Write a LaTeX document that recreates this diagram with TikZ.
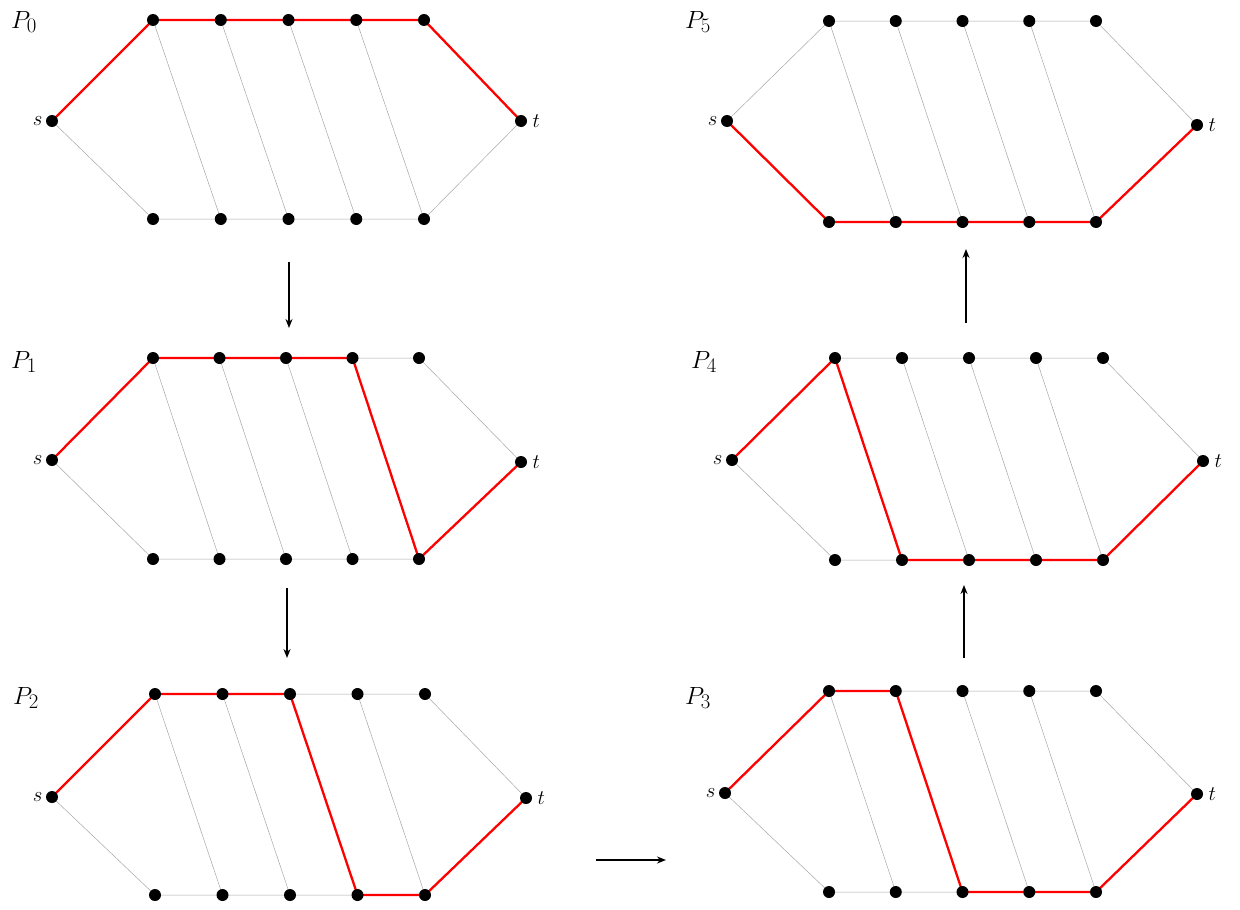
\documentclass[tikz,border=0pt]{standalone}
\usetikzlibrary{arrows.meta}
\begin{document}
\begin{tikzpicture}[x=1pt,y=-1pt,
  gl/.style={gray!70,line width=0.5pt},
  rl/.style={red,line width=2.3pt,line join=round},
  ar/.style={-{Stealth[length=9pt,width=7pt]},line width=2pt},
  lab/.style={font=\fontsize{30}{32}\selectfont},
  st/.style={font=\fontsize{22}{24}\selectfont}]
\useasboundingbox (0,0) rectangle (1240,910);
\newcommand\mkpanel[9]{%
  \coordinate (#1s) at (#2,#3);
  \coordinate (#1t) at (#8,#9);
  \foreach \i in {0,...,4}{
    \coordinate (#1a\i) at ({#4+\i*#5},#6);
    \coordinate (#1b\i) at ({#4+\i*#5},#7);}
  \draw[gl] (#1s)--(#1a0)--(#1a4)--(#1t)--(#1b4)--(#1b0)--(#1s);
  \foreach \i [evaluate=\i as \j using int(\i+1)] in {0,...,3}{\draw[gl] (#1a\i)--(#1b\j);}
  \node[st,anchor=east] (#1sl) at ([xshift=-6pt]#1s) {$s$};
  \node[st,anchor=west] (#1tl) at ([xshift=8pt]#1t) {$t$};
}
\newcommand\mkdots[1]{%
  \fill (#1s) circle (6); \fill (#1t) circle (6);
  \foreach \i in {0,...,4}{\fill (#1a\i) circle (6); \fill (#1b\i) circle (6);}}
\mkpanel{A}{52}{121}{153}{67.75}{20}{219}{521}{121}
\mkpanel{B}{52}{460}{153}{66.5}{358}{559}{521}{462}
\mkpanel{C}{52}{797}{155}{67.5}{694}{895}{526}{798}
\mkpanel{D}{725}{793}{829}{66.75}{691}{892}{1197}{794}
\mkpanel{E}{732}{460}{835}{67}{358}{560}{1203}{461}
\mkpanel{F}{727}{121}{829}{66.75}{21}{222}{1197}{125}
\draw[rl] (As)--(Aa0)--(Aa4)--(At);
\draw[rl] (Bs)--(Ba0)--(Ba3)--(Bb4)--(Bt);
\draw[rl] (Cs)--(Ca0)--(Ca2)--(Cb3)--(Cb4)--(Ct);
\draw[rl] (Ds)--(Da0)--(Da1)--(Db2)--(Db4)--(Dt);
\draw[rl] (Es)--(Ea0)--(Eb1)--(Eb4)--(Et);
\draw[rl] (Fs)--(Fb0)--(Fb4)--(Ft);
\mkdots{A}\mkdots{B}\mkdots{C}\mkdots{D}\mkdots{E}\mkdots{F}
\node[lab] (LA) at (24,22) {$P_0$};
\node[lab] (LB) at (24,362) {$P_1$};
\node[lab] (LC) at (26,698) {$P_2$};
\node[lab] (LD) at (698,698) {$P_3$};
\node[lab] (LE) at (704,362) {$P_4$};
\node[lab] (LF) at (698,22) {$P_5$};
\coordinate (r1a) at (289,262); \coordinate (r1b) at (289,328);
\coordinate (r2a) at (287,588); \coordinate (r2b) at (287,658);
\coordinate (r3a) at (596,860); \coordinate (r3b) at (666,860);
\coordinate (r4a) at (964,658); \coordinate (r4b) at (964,585);
\coordinate (r5a) at (966,323); \coordinate (r5b) at (966,249);
\draw[ar] (r1a)--(r1b); \draw[ar] (r2a)--(r2b); \draw[ar] (r3a)--(r3b);
\draw[ar] (r4a)--(r4b); \draw[ar] (r5a)--(r5b);
\end{tikzpicture}
\end{document}
